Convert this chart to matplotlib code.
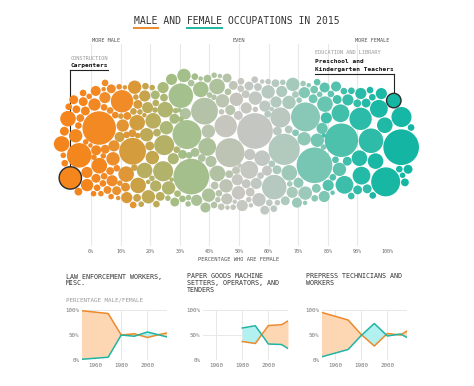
import numpy as np
import matplotlib
matplotlib.use('Agg')
import matplotlib.pyplot as plt
from matplotlib.colors import LinearSegmentedColormap
from matplotlib.lines import Line2D

W, H = 474, 386
MONO = 'DejaVu Sans Mono'
ORANGE = '#ec8a2c'
TEAL = '#20b5a3'
PEACH = '#fdd6b3'
AQUA = '#b3f1f1'
GRID = '#e8e8e8'

# ---- bubble data: percentage female, workers (thousands) ----
pct_female = [
    2.0, 1.2, 0.8, 2.5, 1.5, 0.5, 1.0, 0.6, 1.8, 2.2, 2.8, 0.9, 1.4, 2.6, 0.3, 1.9, 2.4, 0.7, 3.0, 1.1, 2.9,
    5.0, 7.0, 3.5, 8.5, 4.0, 3.2, 4.5, 9.0, 7.5, 3.8, 3.4, 4.2, 5.5, 6.0, 6.5, 7.2, 8.0, 8.8, 9.5, 5.8,
    4.8, 6.2, 7.8, 9.2, 5.2, 8.2, 6.8, 9.8, 5.6, 7.6, 4.4,
    15, 12.5, 11.5, 16, 17.5, 14, 10.5, 13, 18.5, 19.5, 11, 16.5, 14.5, 19, 10.2,
    11.8, 13.5, 15.5, 17, 18, 19.8, 12.2, 10.8, 12.8, 14.8, 16.8, 18.2, 13.8, 17.8, 19.2,
    24.5, 25, 23, 22.5, 26.5, 21.5, 20.5, 28.5, 21, 27, 23.5, 29, 26, 22, 28,
    29.5, 27.5, 20.2, 21.8, 23.2, 24.8, 26.2, 27.8, 29.2, 20.8, 22.8, 24.2, 25.8, 28.8,
    33, 34, 33.5, 37.5, 32.5, 39, 34.5, 39.5, 30.5, 31, 36, 38, 35.5, 37, 31.5,
    36.5, 30.2, 31.8, 33.8, 35.2, 36.8, 38.5, 39.8, 31.2, 35.8, 38.8, 32.2,
    42, 46, 45, 45.5, 49, 40.5, 43.5, 47.5, 41, 48.5, 44, 47, 42.5, 49.5, 46.5,
    43, 40.2, 41.5, 43.2, 44.8, 46.2, 47.8, 49.2, 48.2, 40.8, 42.2, 44.2, 46.8, 48.8, 41.8,
    54, 52.5, 58.5, 57, 51, 51.5, 53, 56.5, 52, 55, 59, 57.5, 55.5, 58, 50.2,
    51.8, 53.5, 55.2, 56.8, 58.2, 59.5, 54.5, 50.8, 52.8, 54.2, 56.2, 57.8, 59.8,
    64, 62.5, 61, 68.5, 66, 62, 67, 65.5, 60.5, 69, 63.5, 65, 67.5, 69.5, 61.5,
    66.5, 63, 60.2, 61.8, 63.2, 64.8, 66.2, 67.8, 69.8, 60.8, 62.8, 64.2, 68.2,
    75, 72, 76, 79, 71, 73.5, 77.5, 78, 74, 70.5, 76.5, 79.5, 72.5, 70.2, 71.5,
    73, 74.8, 77, 78.8, 71.8, 73.8, 75.5, 77.8,
    82, 85, 84, 89, 88.5, 90, 89.5, 81, 83.5, 80.5, 84.5, 87.5, 80.8, 83.8, 87,
    81.5, 84.2, 86.5, 82.5, 86, 88, 85.5,
    97, 95.5, 91, 95, 96, 94.5, 92, 99, 97.5, 94, 92.5, 98.5, 99.5, 93, 90.5, 96.5, 98,
]
workers = [
    990, 400, 400, 400, 250, 130, 130, 100, 130, 130, 130, 100, 73, 73, 73, 51, 51, 51, 73, 73, 51,
    1840, 820, 295, 205, 205, 165, 250, 295, 205, 165, 73, 51, 100, 51, 73, 33, 73, 51, 100, 33,
    73, 51, 100, 73, 51, 73, 130, 130, 100, 130, 73,
    1180, 400, 250, 400, 400, 205, 205, 295, 205, 295, 130, 165, 130, 130, 51,
    33, 73, 51, 33, 73, 51, 33, 73, 100, 51, 73, 100, 51, 73, 51,
    660, 660, 400, 400, 400, 205, 295, 295, 295, 205, 205, 205, 295, 130, 130,
    165, 100, 51, 33, 73, 51, 33, 51, 73, 73, 51, 100, 73, 51,
    2090, 1380, 990, 520, 295, 400, 400, 205, 130, 205, 205, 295, 130, 165, 130,
    100, 51, 33, 73, 51, 33, 73, 51, 73, 51, 100, 73,
    1180, 1380, 295, 295, 820, 400, 295, 205, 205, 295, 165, 130, 130, 130, 100,
    100, 51, 33, 73, 51, 33, 51, 73, 33, 73, 51, 100, 73, 51, 73,
    2090, 520, 400, 295, 205, 295, 205, 295, 205, 205, 205, 130, 165, 130, 51,
    33, 73, 51, 33, 73, 51, 33, 130, 100, 130, 73, 100, 73,
    1600, 990, 660, 400, 295, 295, 205, 130, 205, 295, 205, 205, 295, 165, 130,
    130, 100, 51, 33, 73, 51, 73, 51, 33, 73, 100, 73, 51,
    2090, 1380, 295, 295, 295, 205, 400, 205, 205, 165, 130, 165, 130, 51, 33,
    73, 51, 33, 73, 73, 51, 100, 73,
    1840, 520, 520, 820, 990, 400, 205, 73, 130, 205, 130, 130, 165, 205, 73,
    73, 73, 100, 33, 205, 130, 73,
    660, 400, 520, 520, 1380, 205, 400, 130, 73, 73, 73, 2090, 73, 73, 130, 51, 100,
]

# highlighted occupations
named_group = ['CONSTRUCTION', 'EDUCATION AND LIBRARY']
named_lines = [['Carpenters'], ['Preschool and', 'Kindergarten Teachers']]
named_pct = [1.6, 97.8]
named_workers = [820, 345]

# ---- small multiples: share male / female (%) ----
sm_titles = ['LAW ENFORCEMENT WORKERS,\nMISC.',
             'PAPER GOODS MACHINE\nSETTERS, OPERATORS, AND\nTENDERS',
             'PREPRESS TECHNICIANS AND\nWORKERS']
years_law = [1950, 1970, 1980, 1990, 2000, 2010, 2015]
male_law = [98.5, 93, 50, 52.5, 45, 51.5, 54]
female_law = [1.5, 5.5, 50, 47.5, 56, 49.5, 46]
years_paper = [1980, 1990, 2000, 2010, 2015]
male_paper = [37, 33, 69, 70.5, 78]
female_paper = [64, 68.5, 32, 31, 23]
years_prepress = [1950, 1970, 1980, 1990, 2000, 2010, 2015]
male_prepress = [95, 80, 51, 28, 53, 50, 58]
female_prepress = [6.5, 21, 49, 73, 48, 52, 45]
sm_data = [(years_law, male_law, female_law),
           (years_paper, male_paper, female_paper),
           (years_prepress, male_prepress, female_prepress)]

cmap = LinearSegmentedColormap.from_list('mf', [
    (0.00, '#f5841a'), (0.08, '#f08c2a'), (0.15, '#d49c3c'), (0.22, '#b9ad5c'),
    (0.32, '#a2bf88'), (0.42, '#b4c3a8'), (0.50, '#c8c6c1'), (0.60, '#bec8c1'),
    (0.67, '#a8cabb'), (0.76, '#72c6b2'), (0.84, '#42bfab'), (0.92, '#1fb9a6'),
    (1.00, '#12b6a3')])


def pack_bubbles(tx, r, pad=0.9, steps=400):
    """small force layout: pull to (tx, 0), push overlapping circles apart"""
    rank = np.argsort(np.argsort(-r))
    ang = rank * np.pi * (3 - np.sqrt(5))
    x = tx + 0.5 * np.sqrt(rank + 0.5) * np.cos(ang)
    y = 3.0 * np.sqrt(rank + 0.5) * np.sin(ang)
    m = r ** 2
    wgt = m[None, :] / (m[:, None] + m[None, :])
    rsum = r[:, None] + r[None, :] + pad

    def collide(k):
        dx = x[:, None] - x[None, :]
        dy = y[:, None] - y[None, :]
        d = np.hypot(dx, dy) + 1e-6
        ov = np.clip(rsum - d, 0, None)
        np.fill_diagonal(ov, 0)
        f = ov * wgt / d * k
        return (f * dx).sum(1), (f * dy).sum(1)

    for s in range(steps):
        a = max(1 - s / steps, 0.15)
        x += (tx - x) * 0.06 * a
        y += (0 - y) * 0.025 * a
        for _ in range(3):
            mx, my = collide(0.35)
            x += mx
            y += my
    for _ in range(80):
        mx, my = collide(0.3)
        x += mx
        y += my
    return x, y


fig = plt.figure(figsize=(W / 100, H / 100), dpi=100)

# title with coloured underlines
title = 'MALE AND FEMALE OCCUPATIONS IN 2015'
t = fig.text(0.5, 1 - 21.5 / H, title, ha='center', va='center', fontsize=7,
             family=MONO, color='#333333')
fig.canvas.draw()
bb = t.get_window_extent()
cw = bb.width / len(title)
for start, n, col in [(0, 4, ORANGE), (9, 6, TEAL)]:
    x0 = bb.x0 + start * cw
    fig.add_artist(Line2D([x0 / W, (x0 + n * cw) / W], [(bb.y0 - 1) / H] * 2,
                          transform=fig.transFigure, color=col, lw=1.4))

# bubble chart
ax_l, ax_r, ax_t, ax_b = 91, 387, 44, 246
cy = 142.5
ax = fig.add_axes([ax_l / W, 1 - ax_b / H, (ax_r - ax_l) / W, (ax_b - ax_t) / H])
ax.set_xlim(0, 100)
ax.set_ylim(ax_b - cy, ax_t - cy)
px_per_pct = (ax_r - ax_l) / 100

all_pct = np.array(named_pct[:1] + pct_female + named_pct[1:], dtype=float)
all_w = np.array(named_workers[:1] + workers + named_workers[1:], dtype=float)
radius = 0.39 * np.sqrt(all_w)
bx, by = pack_bubbles(all_pct * px_per_pct, radius)
bx = bx / px_per_pct

ax.scatter(bx, by, s=(2 * radius * 0.72) ** 2, c=cmap(all_pct / 100),
           edgecolors='none', clip_on=False, zorder=3)
hi = [0, len(all_pct) - 1]
ax.scatter(bx[hi], by[hi], s=(2 * radius[hi] * 0.72) ** 2, c=cmap(all_pct[hi] / 100),
           edgecolors='#2a2a2a', linewidths=1.0, clip_on=False, zorder=4)

ax.set_xticks(range(0, 101, 10))
ax.set_xticklabels([f'{v}%' for v in range(0, 101, 10)])
ax.set_yticks([])
ax.tick_params(axis='x', length=0, pad=2, labelsize=3.6, labelcolor='#666666')
for lab in ax.get_xticklabels():
    lab.set_family(MONO)
ax.grid(axis='x', color=GRID, lw=0.8)
ax.set_axisbelow(True)
for sp in ax.spines.values():
    sp.set_visible(False)
ax.set_xlabel('PERCENTAGE WHO ARE FEMALE', fontsize=3.9, family=MONO,
              color='#555555', labelpad=2)
for xv, txt in [(5, 'MORE MALE'), (50, 'EVEN'), (95, 'MORE FEMALE')]:
    ax.text(xv, -102, txt, ha='center', va='center', fontsize=3.8,
            family=MONO, color='#555555')

# annotations for highlighted occupations
fig.canvas.draw()
ci, pi = hi
ax.text(bx[ci], -84.5, named_group[0], ha='left', va='center', fontsize=3.8,
        family=MONO, color='#999999')
tc = ax.text(bx[ci], -76.5, named_lines[0][0], ha='left', va='center', fontsize=4.4,
             family=MONO, weight='bold', color='#111111')
fig.canvas.draw()
wc = tc.get_window_extent().width / px_per_pct
ax.plot([bx[ci], bx[ci] + wc], [-72, -72], color='#222222', lw=0.8, clip_on=False)
ax.plot([bx[ci], bx[ci]], [-72, by[ci] - radius[ci]], color='#222222', lw=0.8,
        clip_on=False)

tp = ax.text(bx[pi], -72.5, named_lines[1][1], ha='right', va='center', fontsize=4.4,
             family=MONO, weight='bold', color='#111111')
fig.canvas.draw()
lx = bx[pi] - tp.get_window_extent().width / px_per_pct
ax.text(lx, -81, named_lines[1][0], ha='left', va='center', fontsize=4.4,
        family=MONO, weight='bold', color='#111111')
ax.text(lx, -89.5, named_group[1], ha='left', va='center', fontsize=3.8,
        family=MONO, color='#999999')
ax.plot([lx, bx[pi]], [-68.5, -68.5], color='#222222', lw=0.8, clip_on=False)
ax.plot([bx[pi], bx[pi]], [-68.5, by[pi] - radius[pi]], color='#222222', lw=0.8,
        clip_on=False)

# small multiples
sm_left = [82, 203, 322]
for k, (yrs, male, female) in enumerate(sm_data):
    l = sm_left[k]
    a = fig.add_axes([l / W, 1 - 360 / H, 85 / W, 50 / H])
    yrs = np.array(yrs)
    male = np.array(male, dtype=float)
    female = np.array(female, dtype=float)
    a.fill_between(yrs, male, female, where=male >= female, interpolate=True,
                   color=PEACH, lw=0)
    a.fill_between(yrs, male, female, where=female >= male, interpolate=True,
                   color=AQUA, lw=0)
    a.plot(yrs, male, color=ORANGE, lw=1.1)
    a.plot(yrs, female, color=TEAL, lw=1.1)
    a.set_xlim(1950, 2015)
    a.set_ylim(0, 100)
    a.set_xticks([1960, 1980, 2000])
    a.set_yticks([0, 50, 100])
    a.set_yticklabels(['0%', '50%', '100%'])
    a.tick_params(length=0, labelsize=4.2, labelcolor='#777777', pad=2)
    for lab in a.get_xticklabels() + a.get_yticklabels():
        lab.set_family(MONO)
    a.grid(color=GRID, lw=0.7)
    a.set_axisbelow(True)
    for sp in a.spines.values():
        sp.set_visible(False)
    fig.text((l - 16) / W, 1 - 273.5 / H, sm_titles[k], ha='left', va='top',
             fontsize=4.8, family=MONO, color='#333333', linespacing=1.15)
fig.text(66 / W, 1 - 300 / H, 'PERCENTAGE MALE/FEMALE', ha='left', va='center',
         fontsize=4.2, family=MONO, color='#999999')

fig.savefig('out.png', dpi=100)
